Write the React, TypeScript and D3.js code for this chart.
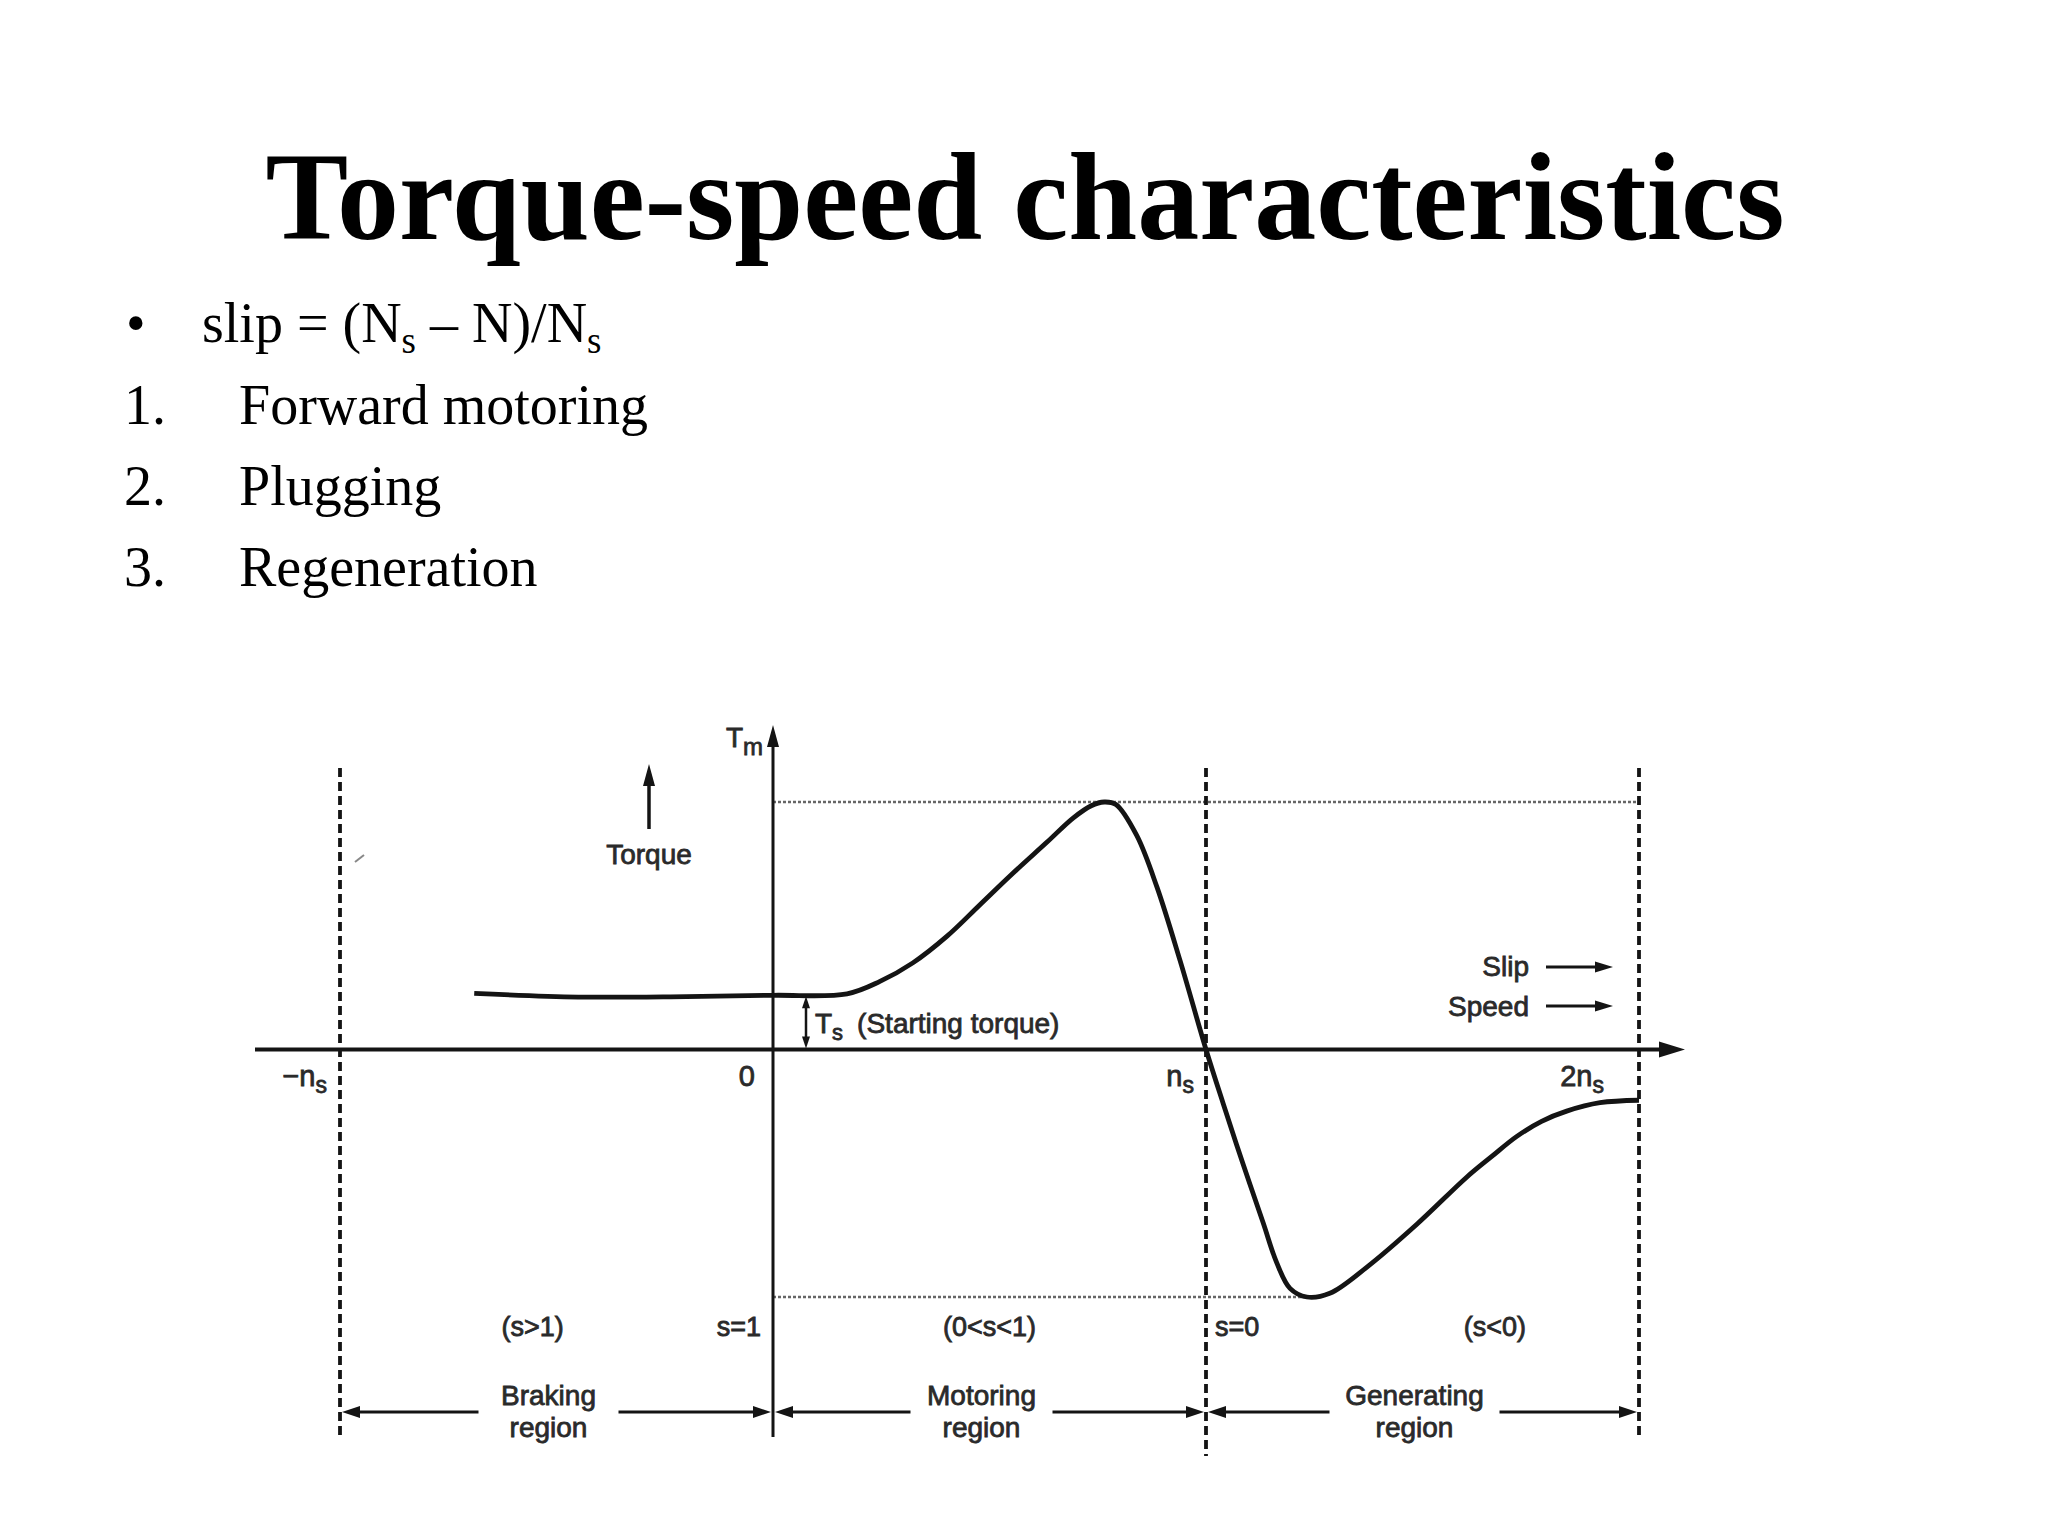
import React from 'react';
import * as d3 from 'd3';

const W = 2048;
const H = 1536;

const titleText = 'Torque-speed characteristics';
const listNumbers = ['1.', '2.', '3.'];
const listItems = ['Forward motoring', 'Plugging', 'Regeneration'];

// torque-speed curve: speed in units of n_s, torque in units of T_max
const speedPts = [-0.69, -0.45, -0.2, 0, 0.171, 0.247, 0.323, 0.402, 0.478, 0.554, 0.633, 0.693, 0.735, 0.765, 0.792, 0.84, 0.887, 0.94, 1.0, 1.04, 1.085, 1.132, 1.163, 1.194, 1.233, 1.286, 1.371, 1.487, 1.602, 1.66, 1.717, 1.775, 1.833, 1.91, 2.0];
const torquePts = [0.227, 0.212, 0.214, 0.219, 0.225, 0.275, 0.35, 0.458, 0.585, 0.712, 0.838, 0.935, 0.985, 1.0, 0.99, 0.865, 0.655, 0.36, 0.0, -0.22, -0.46, -0.7, -0.86, -0.965, -1.0, -0.985, -0.88, -0.706, -0.516, -0.432, -0.352, -0.29, -0.249, -0.215, -0.205];

const speedTicks = [-1, 0, 1, 2];
const speedTickMain = ['\u2212n', '0', 'n', '2n'];
const speedTickSub = ['s', '', 's', 's'];

const slipMarks = ['(s>1)', 's=1', '(0<s<1)', 's=0', '(s<0)'];
const slipMarkAt = [-0.555, 0, 0.5, 1, 1.667];

const regionNames = ['Braking', 'Motoring', 'Generating'];
const regionFrom = [-1, 0, 1];
const regionTo = [0, 1, 2];

const maxTorque = 1;
const minTorque = -1;
const startTorque = 0.219;

const sansFont = '"Liberation Sans", Arial, sans-serif';
const serifFont = '"Liberation Serif", "Times New Roman", serif';
const ink = '#141414';
const txt = '#2a2a2a';

function Head({ x, y, dir, len = 20, hw = 6 }: { x: number; y: number; dir: 'l' | 'r' | 'u' | 'd'; len?: number; hw?: number }) {
  let pts: number[][];
  if (dir === 'r') pts = [[x, y], [x - len, y - hw], [x - len, y + hw]];
  else if (dir === 'l') pts = [[x, y], [x + len, y - hw], [x + len, y + hw]];
  else if (dir === 'u') pts = [[x, y], [x - hw, y + len], [x + hw, y + len]];
  else pts = [[x, y], [x - hw, y - len], [x + hw, y - len]];
  return <polygon points={pts.map((p) => p.join(',')).join(' ')} fill={ink} />;
}

export default function App() {
  const x = d3.scaleLinear().domain([-1, 2]).range([340, 1639]);
  const y = d3.scaleLinear().domain([-1, 1]).range([1297, 802]);

  const data = speedPts.map((s, i) => [s, torquePts[i]] as [number, number]);
  const line = d3
    .line<[number, number]>()
    .x((d) => x(d[0]))
    .y((d) => y(d[1]))
    .curve(d3.curveCatmullRom.alpha(0.5));
  const curvePath = line(data) || '';

  const y0 = y(0);
  const dashTop = 768;
  const dashBottoms = [1437, 1456, 1437];
  const minSpeed = speedPts[torquePts.indexOf(minTorque)];

  const tickDx = [-13, -18, -12, -35];
  const gapHalf = [70, 71, 85];
  const arrowRowY = 1412;
  const textStroke = { stroke: txt, strokeWidth: 0.8 };

  return (
    <svg width={W} height={H} style={{ position: 'absolute', left: 0, top: 0, background: '#fff' }}>
      <rect x={0} y={0} width={W} height={H} fill="#fff" />
      {/* Title */}
      <text x={1025} y={239} textAnchor="middle" fontFamily={serifFont} fontWeight="bold" fontSize={124} fill="#000">
        {titleText}
      </text>

      {/* bullet list */}
      <g fontFamily={serifFont} fontSize={56} fill="#000">
        <text x={126} y={342}>•</text>
        <text x={202} y={342}>
          slip = (N
          <tspan fontSize={37} dy={11}>s</tspan>
          <tspan dy={-11}> – N)/N</tspan>
          <tspan fontSize={37} dy={11}>s</tspan>
        </text>
        {listItems.map((it, i) => (
          <g key={it}>
            <text x={124} y={424 + i * 81}>{listNumbers[i]}</text>
            <text x={239} y={424 + i * 81}>{it}</text>
          </g>
        ))}
      </g>

      {/* dotted max / min torque lines */}
      <line x1={x(0)} x2={x(2)} y1={y(maxTorque)} y2={y(maxTorque)} stroke="#666" strokeWidth={2.4} strokeDasharray="3,2" />
      <line x1={x(0)} x2={x(minSpeed)} y1={y(minTorque)} y2={y(minTorque)} stroke="#666" strokeWidth={2.4} strokeDasharray="3,2" />

      {/* dashed verticals */}
      {[-1, 1, 2].map((v, i) => (
        <line key={v} x1={x(v)} x2={x(v)} y1={dashTop} y2={dashBottoms[i]} stroke={ink} strokeWidth={3.8} strokeDasharray="9,5" />
      ))}

      {/* y axis */}
      <line x1={x(0)} x2={x(0)} y1={1437} y2={740} stroke={ink} strokeWidth={3} />
      <Head x={x(0)} y={725} dir="u" len={22} hw={6} />
      <text x={726} y={747} fontFamily={sansFont} fontSize={28} fill={txt} {...textStroke}>
        T<tspan fontSize={24} dy={8}>m</tspan>
      </text>

      {/* x axis */}
      <line x1={255} x2={1665} y1={y0} y2={y0} stroke={ink} strokeWidth={4.2} />
      <Head x={1685} y={y0} dir="r" len={26} hw={8} />

      {/* tick labels */}
      <g fontFamily={sansFont} fontSize={29} fill={txt} {...textStroke}>
        {speedTicks.map((t, i) => (
          <text key={t} x={x(t) + tickDx[i]} y={1086} textAnchor="end">
            {speedTickMain[i]}
            {speedTickSub[i] ? <tspan fontSize={23} dy={7}>{speedTickSub[i]}</tspan> : null}
          </text>
        ))}
      </g>

      {/* torque curve */}
      <path d={curvePath} fill="none" stroke={ink} strokeWidth={4.8} strokeLinejoin="round" strokeLinecap="butt" />

      {/* Torque arrow */}
      <line x1={649} x2={649} y1={785} y2={829} stroke={ink} strokeWidth={3.5} />
      <Head x={649} y={764} dir="u" len={22} hw={6} />
      <text x={649} y={864} textAnchor="middle" fontFamily={sansFont} fontSize={28} fill={txt} {...textStroke}>Torque</text>

      {/* starting torque */}
      <line x1={806} x2={806} y1={y(startTorque) + 12} y2={y0 - 12} stroke={ink} strokeWidth={2.5} />
      <Head x={806} y={y(startTorque) + 1} dir="u" len={12} hw={4} />
      <Head x={806} y={y0 - 1} dir="d" len={12} hw={4} />
      <text x={815} y={1033} fontFamily={sansFont} fontSize={28} fill={txt} {...textStroke}>
        T<tspan fontSize={22} dy={7}>s</tspan>
        <tspan dy={-7} dx={14}>(Starting torque)</tspan>
      </text>

      {/* slip / speed direction */}
      <g fontFamily={sansFont} fontSize={28} fill={txt} {...textStroke}>
        <text x={1529} y={976} textAnchor="end">Slip</text>
        <text x={1529} y={1016} textAnchor="end">Speed</text>
      </g>
      <line x1={1546} x2={1598} y1={967} y2={967} stroke={ink} strokeWidth={2.8} />
      <Head x={1613} y={967} dir="r" len={18} hw={5.5} />
      <line x1={1546} x2={1598} y1={1006} y2={1006} stroke={ink} strokeWidth={2.8} />
      <Head x={1613} y={1006} dir="r" len={18} hw={5.5} />

      {/* slip range marks */}
      <g fontFamily={sansFont} fontSize={27} fill={txt} {...textStroke}>
        {slipMarks.map((m, i) => {
          const anchor = i === 1 ? 'end' : i === 3 ? 'start' : 'middle';
          const dx = i === 1 ? -12 : i === 3 ? 9 : 0;
          return (
            <text key={m} x={x(slipMarkAt[i]) + dx} y={1336} textAnchor={anchor}>
              {m}
            </text>
          );
        })}
      </g>

      {/* region arrows */}
      {regionNames.map((r, i) => {
        const a = x(regionFrom[i]);
        const b = x(regionTo[i]);
        const c = (a + b) / 2 - 8;
        const g = gapHalf[i];
        return (
          <g key={r}>
            <line x1={a + 14} x2={c - g} y1={arrowRowY} y2={arrowRowY} stroke={ink} strokeWidth={3} />
            <Head x={a + 2} y={arrowRowY} dir="l" len={18} hw={6} />
            <line x1={c + g} x2={b - 14} y1={arrowRowY} y2={arrowRowY} stroke={ink} strokeWidth={3} />
            <Head x={b - 2} y={arrowRowY} dir="r" len={18} hw={6} />
            <text x={c} y={1405} textAnchor="middle" fontFamily={sansFont} fontSize={28} fill={txt} {...textStroke}>{r}</text>
            <text x={c} y={1437} textAnchor="middle" fontFamily={sansFont} fontSize={28} fill={txt} {...textStroke}>region</text>
          </g>
        );
      })}

      {/* small stray scan mark */}
      <line x1={355} x2={364} y1={862} y2={855} stroke="#888" strokeWidth={2} />
    </svg>
  );
}
